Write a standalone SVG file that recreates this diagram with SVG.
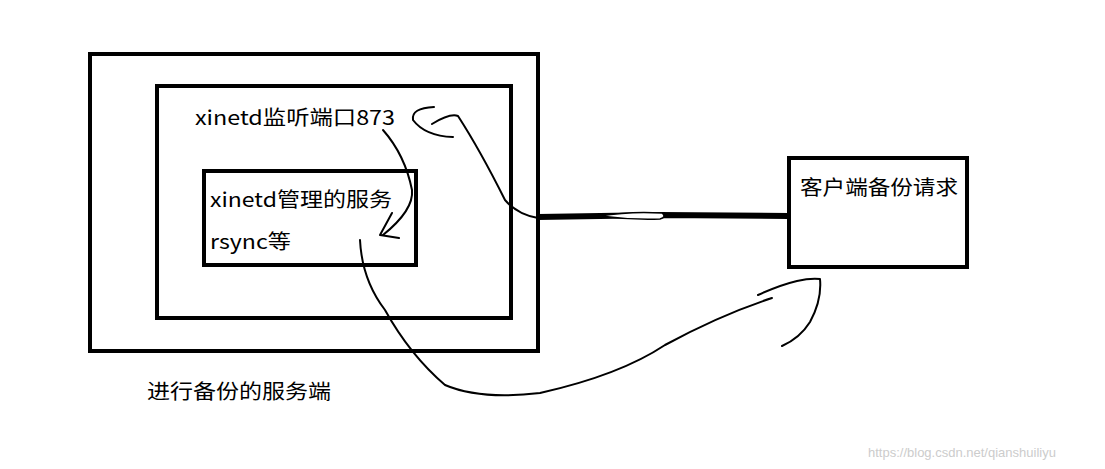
<svg xmlns="http://www.w3.org/2000/svg" width="1105" height="469" viewBox="0 0 1105 469">
<style>
.box{fill:none;stroke:#000;stroke-width:4}
.pen{fill:none;stroke:#000;stroke-width:2;stroke-linecap:round;stroke-linejoin:round}
text{font-family:"Noto Sans CJK SC","Microsoft YaHei",sans-serif;font-size:20px;fill:#000}
.wm{font-size:13px;fill:#ccc;font-family:"Liberation Sans",sans-serif}
</style>
<rect width="1105" height="469" fill="#fff"/>
<g id="server"><rect class="box" x="90" y="54" width="448" height="297"/><text x="147" y="399" textLength="184" lengthAdjust="spacingAndGlyphs">进行备份的服务端</text></g>
<g id="xinetd"><rect class="box" x="157" y="86" width="354" height="232"/><text x="195" y="125" textLength="200" lengthAdjust="spacingAndGlyphs">xinetd监听端口873</text></g>
<g id="services"><rect class="box" x="204" y="171" width="212" height="94"/><text x="210" y="207" textLength="182" lengthAdjust="spacingAndGlyphs">xinetd管理的服务</text><text x="210" y="249" textLength="81" lengthAdjust="spacingAndGlyphs">rsync等</text></g>
<g id="client"><rect class="box" x="789" y="158" width="178" height="109"/><text x="800" y="195" textLength="158" lengthAdjust="spacingAndGlyphs">客户端备份请求</text></g>
<g id="connectors">
<path d="M538,217 L600,216 L660,215 L789,216" stroke="#000" stroke-width="6" fill="none"/>
<path d="M600,216 Q630,211 662,213 Q667,217 660,219 Q630,220 600,216" fill="#fff" stroke="#000" stroke-width="1.5"/>
<path class="pen" d="M383,130 Q405,155 412,190 Q414,210 383,235"/>
<path class="pen" d="M392,213 L380,235 L399,238"/>
<path class="pen" d="M434,107 Q411,108 413,120 Q425,136 453,137"/>
<path class="pen" d="M432,124 Q450,113 458,116 Q480,150 505,200 Q518,215 538,218"/>
<path class="pen" d="M360,240 Q362,280 385,310 Q410,355 445,385 Q480,400 540,393 Q620,375 665,345 Q720,315 772,298"/>
<path class="pen" d="M758,295 Q780,285 797,281 Q810,278 820,279 Q822,300 810,322 Q800,338 782,346"/>
</g>
<text class="wm" x="868" y="457">https://blog.csdn.net/qianshuiliyu</text>
</svg>
